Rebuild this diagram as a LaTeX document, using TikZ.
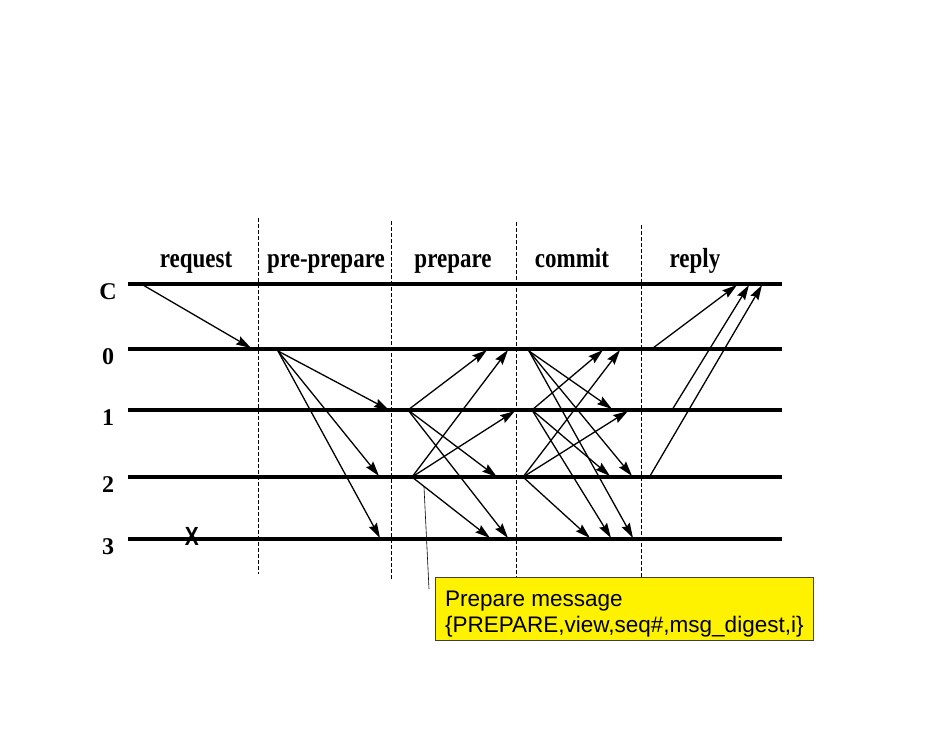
\documentclass[tikz,border=0pt]{standalone}
\usepackage{fontspec}
\setmainfont{Liberation Serif}
\newfontfamily\notefont{Liberation Sans}
\usetikzlibrary{arrows.meta}

\begin{document}
\begin{tikzpicture}[x=1pt, y=-1pt, >={Stealth[length=15pt,width=9pt,inset=2pt]},
  proc/.style={line width=4pt},
  phase/.style={line width=0.9pt, dash pattern=on 3.5pt off 2.5pt},
  msg/.style={line width=1.3pt, ->},
  rowlabel/.style={font=\fontsize{24}{28}\selectfont\bfseries, anchor=base},
  phaselabel/.style={font=\fontsize{23}{28}\selectfont\bfseries, anchor=base},
  note/.style={draw=black!75, fill=yellow, line width=0.6pt,
    font=\notefont\fontsize{22.5}{26}\selectfont, inner xsep=2pt, inner ysep=0pt,
    minimum width=378pt, minimum height=63pt, anchor=north west}]

  \useasboundingbox (0,0) rectangle (942,728);

  % replicas and client
  \foreach \r/\y in {C/284, 0/349, 1/410, 2/477, 3/539} {
    \draw [proc] (128,\y) -- (782,\y);
    \node [rowlabel] (row-\r) at (108,\y+15) {\r};
  }

  % phase borders
  \foreach \x/\t/\b in {258/218/574, 391/221/580, 516/222/578, 641/225/578}
    \draw [phase] (\x,\t) -- (\x,\b);

  \foreach \l/\x [count=\i] in {request/196, pre-prepare/326, prepare/453, commit/572, reply/695}
    \node [phaselabel] (phase-\i) at (\x,267) {\scalebox{1}[1.2]{\l}};

  % message end points
  \foreach \n/\x/\y in {req-C/143/285, req-0/251/348,
      pp-0/278/351, pp-1/389/410, pp-2/379/476, pp-3/380/538,
      pr-1/408/410, pr-2/412/477,
      pr-1to0/487/350, pr-1to2/497/477, pr-1to3/508/538,
      pr-2to0/508/350, pr-2to1/515/411, pr-2to3/490/538,
      cm-0/529/351, cm-1/532/410, cm-2/523/477,
      cm-0to1/612/409, cm-0to2/632/476, cm-0to3/633/538,
      cm-1to0/603/350, cm-1to2/610/476, cm-1to3/611/538,
      cm-2to0/620/350, cm-2to1/628/411, cm-2to3/590/538,
      rp-0/653/348, rp-1/672/410, rp-2/650/476,
      rp-0toC/737/285, rp-1toC/749/285, rp-2toC/762/285}
    \coordinate (\n) at (\x,\y);

  \draw [msg] (req-C) -- (req-0);

  \foreach \j in {1,...,3}
    \draw [msg] (pp-0) -- (pp-\j);

  \foreach \i/\j in {1/0, 1/2, 1/3, 2/0, 2/1, 2/3}
    \draw [msg] (pr-\i) -- (pr-\i to\j);

  \foreach \i/\j in {0/1, 0/2, 0/3, 1/0, 1/2, 1/3, 2/0, 2/1, 2/3}
    \draw [msg] (cm-\i) -- (cm-\i to\j);

  \foreach \i in {0,...,2}
    \draw [msg] (rp-\i) -- (rp-\i toC);

  % crashed replica
  \node [font=\notefont\fontsize{21}{24}\selectfont\bfseries] (crash-3) at (192,536)
    {\scalebox{1}[1.25]{X}};

  \node [note] (prep-note) at (435,577)
    {\raisebox{-5pt}[\height][\depth]{\begin{tabular}{@{}l@{}}
      Prepare message\\\{PREPARE,view,seq\#,msg\_digest,i\}\end{tabular}}};
  \coordinate (note-tip) at (424,487);
  \coordinate (note-foot) at (429,589);
  \draw [line width=0.6pt] (note-tip) -- (note-foot);

\end{tikzpicture}
\end{document}
